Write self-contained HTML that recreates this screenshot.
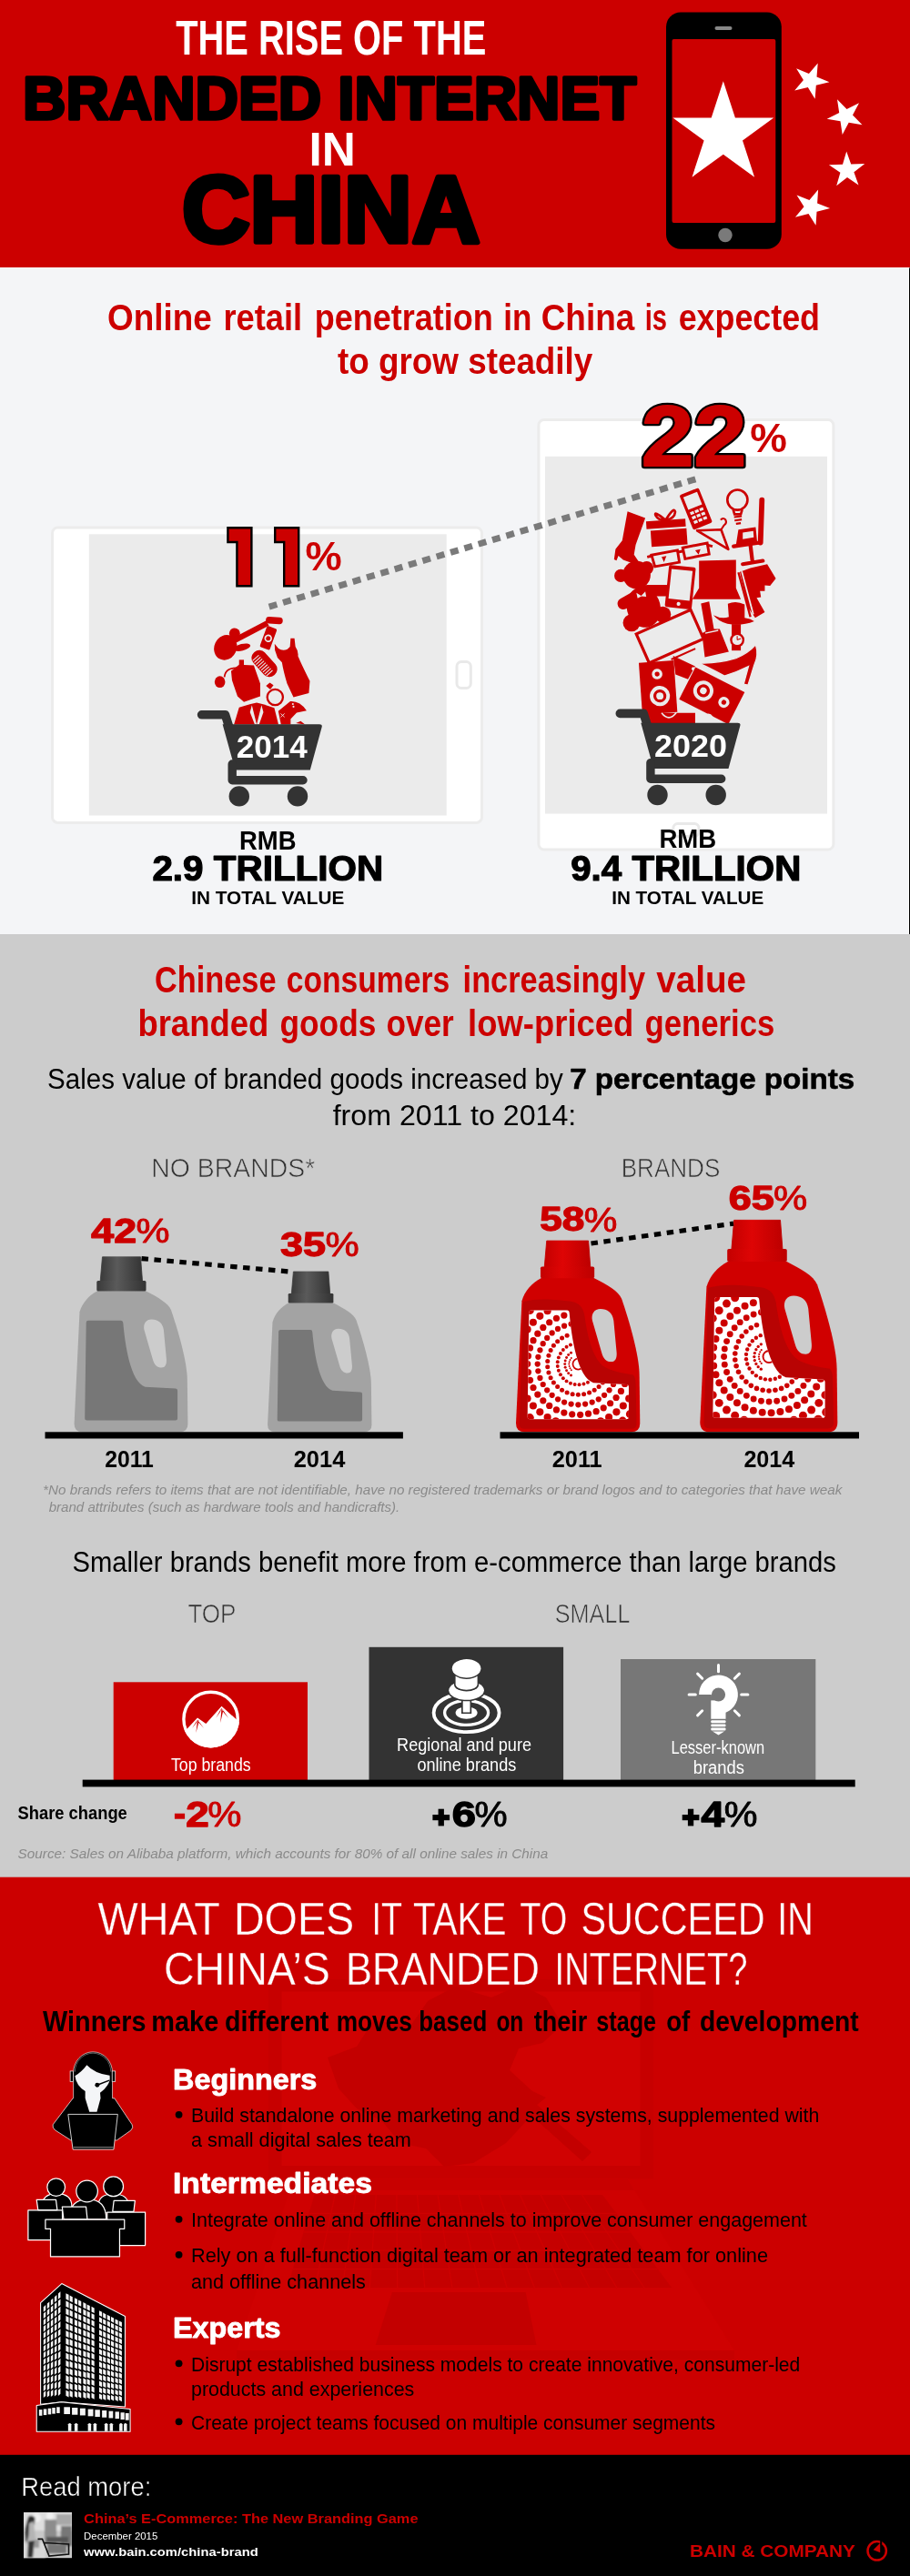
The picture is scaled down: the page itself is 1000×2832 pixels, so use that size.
<!DOCTYPE html>
<html><head><meta charset="utf-8"><title>The Rise of the Branded Internet in China</title>
<style>
html,body{margin:0;padding:0;background:#cc0000;}
body{width:1000px;height:2832px;overflow:hidden;font-family:"Liberation Sans",sans-serif;}
svg{display:block;will-change:transform;}
svg text{font-family:"Liberation Sans",sans-serif;}
</style></head><body>
<svg width="1000" height="2832" viewBox="0 0 1000 2832">
<rect x="0.0" y="0.0" width="1000.0" height="294.0" fill="#cc0000" />
<text x="193.2" y="60.4" font-size="52.8" font-weight="bold" fill="#fff" textLength="341.1" lengthAdjust="spacingAndGlyphs">THE RISE OF THE</text>
<text x="25.1" y="130.8" font-size="67.5" font-weight="bold" textLength="674.2" lengthAdjust="spacingAndGlyphs" stroke="#000" stroke-width="3.6" stroke-linejoin="round">BRANDED INTERNET</text>
<text x="339.5" y="182.2" font-size="51.4" font-weight="bold" fill="#fff" textLength="51.3" lengthAdjust="spacingAndGlyphs">IN</text>
<text x="199.9" y="265.8" font-size="103" font-weight="bold" textLength="327.6" lengthAdjust="spacingAndGlyphs" stroke="#000" stroke-width="5.5" stroke-linejoin="round">CHINA</text>
<rect x="732" y="13.5" width="126.8" height="260.3" rx="16" fill="#000"/>
<rect x="738.5" y="43" width="113.8" height="202" rx="2" fill="#cc0000"/>
<rect x="785.5" y="29" width="19" height="4" rx="2" fill="#888"/>
<circle cx="797" cy="258.5" r="7.7" fill="#7a7a7a"/>
<polygon points="794.8,89.2 807.9,129.5 850.2,129.5 816.0,154.4 829.1,194.7 794.8,169.8 760.5,194.7 773.6,154.4 739.4,129.5 781.7,129.5" fill="#fff"/>
<polygon points="873.2,99.4 882.9,88.0 875.1,75.2 888.9,80.9 898.7,69.5 897.5,84.5 911.4,90.2 896.8,93.7 895.6,108.7 887.8,95.9" fill="#fff"/>
<polygon points="908.7,130.7 922.2,124.0 920.0,109.2 930.5,119.9 944.0,113.2 937.0,126.5 947.5,137.3 932.7,134.8 925.7,148.1 923.5,133.2" fill="#fff"/>
<polygon points="910.9,181.3 926.0,180.8 930.2,166.4 935.2,180.6 950.3,180.1 938.4,189.3 943.5,203.5 931.0,195.0 919.2,204.2 923.4,189.8" fill="#fff"/>
<polygon points="875.5,214.5 889.4,220.0 899.1,208.5 898.1,223.5 912.1,229.0 897.5,232.8 896.5,247.8 888.5,235.0 873.9,238.8 883.5,227.2" fill="#fff"/>
<rect x="0.0" y="294.0" width="1000.0" height="733.0" fill="#f4f5f7" />
<rect x="0.0" y="294.0" width="999.0" height="1.2" fill="#fbfdfd" />
<rect x="998.0" y="294.0" width="1.0" height="733.0" fill="#ffffff" />
<rect x="999.0" y="294.5" width="1.0" height="732.5" fill="#000" />
<text x="118.1" y="363.2" font-size="41.5" font-weight="bold" fill="#cc0000" textLength="114.7" lengthAdjust="spacingAndGlyphs">Online</text>
<text x="245.5" y="363.2" font-size="41.5" font-weight="bold" fill="#cc0000" textLength="86.6" lengthAdjust="spacingAndGlyphs">retail</text>
<text x="345.7" y="363.2" font-size="41.5" font-weight="bold" fill="#cc0000" textLength="196.2" lengthAdjust="spacingAndGlyphs">penetration</text>
<text x="553.2" y="363.2" font-size="41.5" font-weight="bold" fill="#cc0000" textLength="31.1" lengthAdjust="spacingAndGlyphs">in</text>
<text x="594.7" y="363.2" font-size="41.5" font-weight="bold" fill="#cc0000" textLength="102.6" lengthAdjust="spacingAndGlyphs">China</text>
<text x="708.7" y="363.2" font-size="41.5" font-weight="bold" fill="#cc0000" textLength="24.3" lengthAdjust="spacingAndGlyphs">is</text>
<text x="745.7" y="363.2" font-size="41.5" font-weight="bold" fill="#cc0000" textLength="155.3" lengthAdjust="spacingAndGlyphs">expected</text>
<text x="371.0" y="410.8" font-size="41.5" font-weight="bold" fill="#cc0000" textLength="280.3" lengthAdjust="spacingAndGlyphs">to grow steadily</text>
<rect x="57.5" y="580.0" width="472" height="324.4" rx="6" fill="#fff" stroke="#ececec" stroke-width="3"/>
<rect x="97.8" y="587.3" width="392.9" height="309.2" fill="#ebebeb" />
<rect x="502" y="727.5" width="15.3" height="29" rx="5" fill="#fff" stroke="#e9e9e9" stroke-width="3"/>
<rect x="591.9" y="461.5" width="324" height="472.5" rx="6" fill="#fff" stroke="#ececec" stroke-width="3"/>
<rect x="599.0" y="501.8" width="310.0" height="392.8" fill="#ebebeb" />
<rect x="739.8" y="905.5" width="28.3" height="14" rx="5" fill="#fff" stroke="#e9e9e9" stroke-width="3"/>
<path d="M295.7 667.1 L764.3 526.8" stroke="#7a7a7a" stroke-width="7" stroke-dasharray="9 7.006" fill="none"/>
<g transform="translate(210,660) scale(0.17582)" fill="#cc0000" stroke="none">
<ellipse cx="215" cy="295" rx="70" ry="80" transform="rotate(25 215 295)"/>
<circle cx="272" cy="208" r="34"/>
<ellipse cx="318" cy="294" rx="54" ry="21" transform="rotate(-14 318 294)"/>
<path d="M250 262 L478 142" stroke="#cc0000" stroke-width="36" fill="none"/>
<path d="M488 124 L552 128" stroke="#cc0000" stroke-width="42" stroke-linecap="round" fill="none"/>
<g transform="rotate(20 483 235)"><rect x="450" y="165" width="66" height="140" rx="10"/><circle cx="483" cy="238" r="24" fill="#ebebeb"/><circle cx="483" cy="238" r="14"/></g>
<path d="M522 272 L545 300 Q572 320 602 305 L618 290 L622 238 L646 238 L652 290 Q672 318 668 348 Q690 400 725 470 L742 505 L736 580 L640 606 L600 520 Q576 440 568 388 L540 358 L524 312 Z"/>
<g transform="rotate(-42 458 395)"><rect x="410" y="300" width="96" height="190" rx="45"/>
<rect x="415" y="330" width="52" height="6" fill="#ebebeb"/>
<rect x="415" y="346" width="52" height="6" fill="#ebebeb"/>
<rect x="415" y="362" width="52" height="6" fill="#ebebeb"/>
<rect x="415" y="378" width="52" height="6" fill="#ebebeb"/>
<rect x="415" y="394" width="52" height="6" fill="#ebebeb"/>
<rect x="415" y="410" width="52" height="6" fill="#ebebeb"/>
<rect x="415" y="426" width="52" height="6" fill="#ebebeb"/>
<rect x="415" y="442" width="52" height="6" fill="#ebebeb"/>
<rect x="415" y="458" width="52" height="6" fill="#ebebeb"/>
</g>
<path d="M250 442 L300 402 L392 406 L432 520 L432 600 L330 636 L290 600 L256 500 Z"/>
<rect x="300" y="372" width="30" height="34"/>
<path d="M300 425 Q215 415 208 480" stroke="#cc0000" stroke-width="10" fill="none"/>
<ellipse cx="180" cy="510" rx="33" ry="36"/>
<circle cx="525" cy="606" r="49" fill="none" stroke="#cc0000" stroke-width="13"/>
<path d="M468 535 L492 515 L515 530 L495 558 Z"/>
<path d="M300 670 L372 648 L410 640 L450 650 L520 672 L546 776 L268 776 Z"/>
<path d="M380 655 L410 776 L440 655 L452 700 L425 776 L398 776 L368 700 Z" fill="#ebebeb"/>
<path d="M396 660 L410 760 L426 660 Z"/>
<path d="M545 692 L620 632 Q680 628 722 690 L660 702 L622 742 L622 776 L562 776 Z"/>
<path d="M655 768 L685 755 L712 776 Z"/>
<circle cx="636" cy="648" r="6" fill="#ebebeb"/><circle cx="640" cy="665" r="6" fill="#ebebeb"/>
<path d="M560 708 L584 730 M584 708 L560 730" stroke="#ebebeb" stroke-width="5" fill="none"/>
</g>
<g transform="translate(640,520) scale(0.26374)" fill="#cc0000" stroke="none">
<path d="M188 160 L262 188 L222 300 L215 340 L236 372 L225 382 L170 362 L150 345 L142 365 L132 360 L138 318 L166 282 Z"/>
<g transform="rotate(-4 350 240)"><rect x="268" y="196" width="164" height="32"/><rect x="284" y="236" width="150" height="68"/>
<path d="M350 196 Q300 150 310 175 Q320 196 350 196 Q390 140 392 165 Q388 192 350 196" stroke="#cc0000" stroke-width="10" fill="none"/></g>
<g transform="rotate(-22 472 150)"><rect x="430" y="72" width="86" height="156" rx="8"/><rect x="442" y="86" width="62" height="56" fill="#ebebeb"/>
<rect x="444" y="154" width="16" height="12" fill="#ebebeb"/>
<rect x="465" y="154" width="16" height="12" fill="#ebebeb"/>
<rect x="486" y="154" width="16" height="12" fill="#ebebeb"/>
<rect x="444" y="174" width="16" height="12" fill="#ebebeb"/>
<rect x="465" y="174" width="16" height="12" fill="#ebebeb"/>
<rect x="486" y="174" width="16" height="12" fill="#ebebeb"/>
<rect x="444" y="194" width="16" height="12" fill="#ebebeb"/>
<rect x="465" y="194" width="16" height="12" fill="#ebebeb"/>
<rect x="486" y="194" width="16" height="12" fill="#ebebeb"/>
</g>
<circle cx="646" cy="112" r="42" fill="none" stroke="#cc0000" stroke-width="10"/>
<path d="M628 152 L634 172 L660 172 L666 152" fill="none" stroke="#cc0000" stroke-width="10"/>
<path d="M632 184 L664 180 M634 198 L664 194 M640 212 L660 209" stroke="#cc0000" stroke-width="8" fill="none"/>
<path d="M478 240 L608 318 L578 236 Z" fill="none" stroke="#cc0000" stroke-width="10" stroke-linejoin="round"/>
<path d="M578 236 L590 218 Q604 208 596 194 Q586 184 576 196" fill="none" stroke="#cc0000" stroke-width="8"/>
<path d="M748 112 L742 290" stroke="#cc0000" stroke-width="22" stroke-linecap="round" fill="none"/>
<path d="M650 236 L722 226 L728 286 L640 300 Z"/><path d="M668 248 L712 242 L714 268 L668 276 Z" fill="#ebebeb"/>
<path d="M630 306 L740 290" stroke="#cc0000" stroke-width="16" stroke-linecap="round" fill="none"/>
<path d="M700 300 L708 366 M668 380 L752 366" stroke="#cc0000" stroke-width="16" stroke-linecap="round" fill="none"/>
<g fill="none" stroke="#cc0000" stroke-width="11"><path d="M288 342 L396 322 L404 372 L302 390 Z"/><path d="M418 312 L520 292 L528 338 L428 358 Z"/><path d="M396 330 L418 326 M270 350 L288 346 M520 300 L542 306"/></g>
<path d="M330 350 L350 346 L340 372 Z M470 322 L492 318 L484 340 Z"/>
<circle cx="226" cy="425" r="58"/><circle cx="160" cy="428" r="27"/><circle cx="268" cy="396" r="28"/>
<ellipse cx="255" cy="560" rx="70" ry="85" transform="rotate(-15 255 560)"/>
<path d="M170 545 L250 500 M270 490 L350 490" stroke="#cc0000" stroke-width="48" stroke-linecap="round" fill="none"/>
<circle cx="205" cy="625" r="36"/><circle cx="335" cy="590" r="34"/>
<path d="M225 500 L245 512 L262 494 L266 516 L246 514 L230 522 Z" fill="#ebebeb"/>
<g transform="rotate(6 408 475)"><rect x="352" y="388" width="112" height="176" rx="8"/><rect x="364" y="404" width="88" height="124" fill="#ebebeb"/><circle cx="408" cy="546" r="8" fill="#ebebeb"/></g>
<path d="M486 366 L640 362 L640 480 L660 526 L458 526 L486 480 Z"/>
<path d="M656 412 L700 396 L770 380 L806 440 L782 470 L760 468 L760 492 L740 492 L744 518 L726 520 L760 580 L720 604 L690 560 Z"/>
<path d="M664 410 L712 590" stroke="#ebebeb" stroke-width="7" fill="none"/><path d="M650 414 L700 600" stroke="#cc0000" stroke-width="9" fill="none"/>
<g transform="rotate(-24 362 680)"><rect x="240" y="616" width="248" height="132" fill="#ebebeb" stroke="#cc0000" stroke-width="12"/><rect x="330" y="768" width="110" height="8"/></g>
<path d="M494 544 L528 536 L548 650 L572 650 L610 745 L510 768 L498 668 L514 660 Z"/>
<path d="M512 668 L566 656" stroke="#ebebeb" stroke-width="5" fill="none"/>
<path d="M546 592 Q580 610 610 600 L606 545 Q640 530 676 548 L676 604 Q700 606 716 618 Q660 640 604 628 Q566 618 546 592 Z"/>
<rect x="622" y="630" width="38" height="110"/><circle cx="645" cy="696" r="30"/><circle cx="645" cy="696" r="21" fill="#ebebeb"/><path d="M645 696 L645 680 M645 696 L660 690" stroke="#cc0000" stroke-width="4"/>
<g transform="rotate(-4 315 890)"><rect x="242" y="786" width="146" height="216"/><circle cx="315" cy="838" r="22" fill="#ebebeb"/><circle cx="315" cy="838" r="10"/><circle cx="320" cy="930" r="42" fill="#ebebeb"/><circle cx="320" cy="930" r="27"/><circle cx="320" cy="930" r="15" fill="#ebebeb"/></g>
<path d="M378 762 L470 806 L440 860 L388 840 Z"/>
<circle cx="462" cy="816" r="7" fill="#ebebeb"/>
<g transform="rotate(27 540 925)"><rect x="426" y="853" width="230" height="150"/><circle cx="500" cy="926" r="42" fill="#ebebeb"/><circle cx="500" cy="926" r="27"/><circle cx="500" cy="926" r="14" fill="#ebebeb"/><circle cx="598" cy="930" r="23" fill="#ebebeb"/><circle cx="598" cy="930" r="10"/></g>
<path d="M484 792 Q560 796 640 772 Q690 752 722 716 Q736 760 716 800 L690 884 L672 880 L692 806 Q640 832 592 846 Q530 812 484 792 Z" stroke="#ebebeb" stroke-width="5"/>
<path d="M262 1000 L470 1000 L470 1046 L250 1046 Z"/>
<path d="M330 1000 Q360 1040 392 998" stroke="#ebebeb" stroke-width="6" fill="none"/>
<ellipse cx="525" cy="1040" rx="22" ry="34" fill="none" stroke="#ebebeb" stroke-width="6"/>
</g>
<g transform="translate(0,0)">
<path d="M221.6 785.8 L247.5 785.8 L252 800" fill="none" stroke="#333333" stroke-width="9.6" stroke-linecap="round" stroke-linejoin="round"/>
<path d="M244.6 796.2 L351 796.2 Q354.6 796.2 353.6 799.5 L340.8 846.5 L258.5 846.5 Z" fill="#333333"/>
<path d="M255.2 840 L255.2 857.7 L333 857.7" fill="none" stroke="#333333" stroke-width="9.4" stroke-linecap="round" stroke-linejoin="round"/>
<circle cx="262.8" cy="875.4" r="11.2" fill="#333333"/><circle cx="327" cy="875.4" r="11.2" fill="#333333"/>
</g>
<text x="259.7" y="833.2" font-size="35" font-weight="bold" fill="#fff" textLength="78.0" lengthAdjust="spacingAndGlyphs">2014</text>
<g transform="translate(459.7,-1.4)">
<path d="M221.6 785.8 L247.5 785.8 L252 800" fill="none" stroke="#333333" stroke-width="9.6" stroke-linecap="round" stroke-linejoin="round"/>
<path d="M244.6 796.2 L351 796.2 Q354.6 796.2 353.6 799.5 L340.8 846.5 L258.5 846.5 Z" fill="#333333"/>
<path d="M255.2 840 L255.2 857.7 L333 857.7" fill="none" stroke="#333333" stroke-width="9.4" stroke-linecap="round" stroke-linejoin="round"/>
<circle cx="262.8" cy="875.4" r="11.2" fill="#333333"/><circle cx="327" cy="875.4" r="11.2" fill="#333333"/>
</g>
<text x="719.0" y="832.2" font-size="35" font-weight="bold" fill="#fff" textLength="79.9" lengthAdjust="spacingAndGlyphs">2020</text>
<path d="M250.4 580.2 L276.4 580.2 L276.4 644.3 L260.4 644.3 L260.4 596 L250.4 596 Z" fill="#cc0000" stroke="#000" stroke-width="2.4"/>
<path d="M302.2 580.2 L328.2 580.2 L328.2 644.3 L312.2 644.3 L312.2 596 L302.2 596 Z" fill="#cc0000" stroke="#000" stroke-width="2.4"/>
<text x="335.4" y="627.0" font-size="45" font-weight="bold" fill="#cc0000" textLength="40.2" lengthAdjust="spacingAndGlyphs">%</text>
<text x="704.7" y="512.2" font-size="95" font-weight="bold" textLength="115.6" lengthAdjust="spacingAndGlyphs" stroke="#000" stroke-width="6.4" stroke-linejoin="round">22</text>
<text x="704.7" y="512.2" font-size="95" font-weight="bold" fill="#cc0000" textLength="115.6" lengthAdjust="spacingAndGlyphs" stroke="#cc0000" stroke-width="2.0" stroke-linejoin="round">22</text>
<text x="824.2" y="497.0" font-size="45" font-weight="bold" fill="#cc0000" textLength="40.6" lengthAdjust="spacingAndGlyphs">%</text>
<text x="263.0" y="933.7" font-size="30" font-weight="bold" textLength="62.5" lengthAdjust="spacingAndGlyphs">RMB</text>
<text x="167.4" y="968.4" font-size="38" font-weight="bold" textLength="253.7" lengthAdjust="spacingAndGlyphs" stroke="#000" stroke-width="1.2" stroke-linejoin="round">2.9 TRILLION</text>
<text x="210.2" y="994.0" font-size="21" font-weight="bold" textLength="168.1" lengthAdjust="spacingAndGlyphs">IN TOTAL VALUE</text>
<text x="724.4" y="932.4" font-size="30" font-weight="bold" textLength="62.8" lengthAdjust="spacingAndGlyphs">RMB</text>
<text x="627.2" y="968.0" font-size="38" font-weight="bold" textLength="253.1" lengthAdjust="spacingAndGlyphs" stroke="#000" stroke-width="1.2" stroke-linejoin="round">9.4 TRILLION</text>
<text x="672.2" y="993.8" font-size="21" font-weight="bold" textLength="167.1" lengthAdjust="spacingAndGlyphs">IN TOTAL VALUE</text>
<rect x="0.0" y="1027.0" width="1000.0" height="1037.0" fill="#cccccc" />
<defs>
<linearGradient id="capG" x1="0" x2="1" y1="0" y2="0"><stop offset="0" stop-color="#3a3a3a"/><stop offset="0.4" stop-color="#5a5a5a"/><stop offset="1" stop-color="#333"/></linearGradient>
<linearGradient id="capR" x1="0" x2="1" y1="0" y2="0"><stop offset="0" stop-color="#c40000"/><stop offset="0.4" stop-color="#de0505"/><stop offset="1" stop-color="#bd0000"/></linearGradient>
<clipPath id="labClip"><path d="M-46.5 -122.6 L-10.5 -122.6 Q-8.4 -122.6 -8.2 -120 C-6 -95 0 -55 16 -49.6 L49.5 -47.8 Q51.6 -47.6 51.6 -45.5 L51.6 -15 Q51.6 -12.8 49.4 -12.8 L-48 -12.8 Q-50.4 -12.8 -50.3 -15 L-48.8 -120.4 Q-48.7 -122.6 -46.5 -122.6 Z"/></clipPath>
<g id="dots" fill="#cc0000">
<circle cx="0.7" cy="-68.4" r="5.4" fill="none" stroke="#cc0000" stroke-width="1.6"/>
<circle cx="-6.2" cy="-62.3" r="0.9"/>
<circle cx="-7.4" cy="-64.1" r="0.9"/>
<circle cx="-8.2" cy="-66.2" r="0.9"/>
<circle cx="-8.5" cy="-68.4" r="0.9"/>
<circle cx="-8.2" cy="-70.6" r="0.9"/>
<circle cx="-7.4" cy="-72.7" r="0.9"/>
<circle cx="-6.2" cy="-74.5" r="0.9"/>
<circle cx="-6.5" cy="-57.1" r="1.35"/>
<circle cx="-9.1" cy="-59.2" r="1.35"/>
<circle cx="-11.0" cy="-61.9" r="1.35"/>
<circle cx="-12.3" cy="-65.1" r="1.35"/>
<circle cx="-12.7" cy="-68.4" r="1.35"/>
<circle cx="-12.3" cy="-71.7" r="1.35"/>
<circle cx="-11.0" cy="-74.9" r="1.35"/>
<circle cx="-9.1" cy="-77.6" r="1.35"/>
<circle cx="-6.5" cy="-79.7" r="1.35"/>
<circle cx="10.4" cy="-50.0" r="1.8"/>
<circle cx="6.3" cy="-48.4" r="1.8"/>
<circle cx="1.8" cy="-47.6" r="1.8"/>
<circle cx="-2.7" cy="-47.9" r="1.8"/>
<circle cx="-7.0" cy="-49.1" r="1.8"/>
<circle cx="-11.0" cy="-51.2" r="1.8"/>
<circle cx="-14.4" cy="-54.1" r="1.8"/>
<circle cx="-17.1" cy="-57.7" r="1.8"/>
<circle cx="-19.0" cy="-61.8" r="1.8"/>
<circle cx="-20.0" cy="-66.2" r="1.8"/>
<circle cx="-20.0" cy="-70.6" r="1.8"/>
<circle cx="-19.0" cy="-75.0" r="1.8"/>
<circle cx="-17.1" cy="-79.1" r="1.8"/>
<circle cx="-14.4" cy="-82.7" r="1.8"/>
<circle cx="-11.0" cy="-85.6" r="1.8"/>
<circle cx="-7.0" cy="-87.7" r="1.8"/>
<circle cx="25.4" cy="-49.8" r="2.3"/>
<circle cx="21.5" cy="-45.6" r="2.3"/>
<circle cx="17.0" cy="-42.1" r="2.3"/>
<circle cx="11.9" cy="-39.6" r="2.3"/>
<circle cx="6.4" cy="-38.0" r="2.3"/>
<circle cx="0.7" cy="-37.5" r="2.3"/>
<circle cx="-5.0" cy="-38.0" r="2.3"/>
<circle cx="-10.5" cy="-39.6" r="2.3"/>
<circle cx="-15.6" cy="-42.1" r="2.3"/>
<circle cx="-20.1" cy="-45.6" r="2.3"/>
<circle cx="-24.0" cy="-49.8" r="2.3"/>
<circle cx="-27.0" cy="-54.6" r="2.3"/>
<circle cx="-29.0" cy="-59.9" r="2.3"/>
<circle cx="-30.1" cy="-65.5" r="2.3"/>
<circle cx="-30.1" cy="-71.3" r="2.3"/>
<circle cx="-29.0" cy="-76.9" r="2.3"/>
<circle cx="-27.0" cy="-82.2" r="2.3"/>
<circle cx="-24.0" cy="-87.0" r="2.3"/>
<circle cx="-20.1" cy="-91.2" r="2.3"/>
<circle cx="-15.6" cy="-94.7" r="2.3"/>
<circle cx="-10.5" cy="-97.2" r="2.3"/>
<circle cx="36.1" cy="-48.0" r="2.85"/>
<circle cx="32.0" cy="-42.1" r="2.85"/>
<circle cx="27.0" cy="-37.1" r="2.85"/>
<circle cx="21.2" cy="-33.0" r="2.85"/>
<circle cx="14.7" cy="-30.0" r="2.85"/>
<circle cx="7.8" cy="-28.1" r="2.85"/>
<circle cx="0.7" cy="-27.5" r="2.85"/>
<circle cx="-6.4" cy="-28.1" r="2.85"/>
<circle cx="-13.3" cy="-30.0" r="2.85"/>
<circle cx="-19.7" cy="-33.0" r="2.85"/>
<circle cx="-25.6" cy="-37.1" r="2.85"/>
<circle cx="-30.6" cy="-42.1" r="2.85"/>
<circle cx="-34.7" cy="-47.9" r="2.85"/>
<circle cx="-37.7" cy="-54.4" r="2.85"/>
<circle cx="-39.6" cy="-61.3" r="2.85"/>
<circle cx="-40.2" cy="-68.4" r="2.85"/>
<circle cx="-39.6" cy="-75.5" r="2.85"/>
<circle cx="-37.7" cy="-82.4" r="2.85"/>
<circle cx="-34.7" cy="-88.9" r="2.85"/>
<circle cx="-30.6" cy="-94.7" r="2.85"/>
<circle cx="-25.6" cy="-99.7" r="2.85"/>
<circle cx="-19.8" cy="-103.8" r="2.85"/>
<circle cx="-13.3" cy="-106.8" r="2.85"/>
<circle cx="-6.4" cy="-108.7" r="2.85"/>
<circle cx="47.6" cy="-48.4" r="3.3"/>
<circle cx="43.8" cy="-41.1" r="3.3"/>
<circle cx="38.9" cy="-34.6" r="3.3"/>
<circle cx="33.0" cy="-28.9" r="3.3"/>
<circle cx="26.2" cy="-24.2" r="3.3"/>
<circle cx="18.8" cy="-20.7" r="3.3"/>
<circle cx="10.9" cy="-18.4" r="3.3"/>
<circle cx="2.8" cy="-17.4" r="3.3"/>
<circle cx="-5.4" cy="-17.8" r="3.3"/>
<circle cx="-13.5" cy="-19.4" r="3.3"/>
<circle cx="-21.2" cy="-22.3" r="3.3"/>
<circle cx="-28.3" cy="-26.4" r="3.3"/>
<circle cx="-34.6" cy="-31.6" r="3.3"/>
<circle cx="-40.1" cy="-37.8" r="3.3"/>
<circle cx="-44.5" cy="-44.7" r="3.3"/>
<circle cx="-47.7" cy="-52.2" r="3.3"/>
<circle cx="-49.6" cy="-60.2" r="3.3"/>
<circle cx="-50.3" cy="-68.4" r="3.3"/>
<circle cx="-49.6" cy="-76.6" r="3.3"/>
<circle cx="-47.7" cy="-84.6" r="3.3"/>
<circle cx="-44.5" cy="-92.1" r="3.3"/>
<circle cx="-40.1" cy="-99.0" r="3.3"/>
<circle cx="-34.6" cy="-105.2" r="3.3"/>
<circle cx="-28.3" cy="-110.4" r="3.3"/>
<circle cx="-21.2" cy="-114.5" r="3.3"/>
<circle cx="-13.5" cy="-117.4" r="3.3"/>
<circle cx="51.8" cy="-33.6" r="3.7"/>
<circle cx="46.0" cy="-26.4" r="3.7"/>
<circle cx="39.2" cy="-20.1" r="3.7"/>
<circle cx="31.6" cy="-14.9" r="3.7"/>
<circle cx="23.3" cy="-10.9" r="3.7"/>
<circle cx="-21.9" cy="-10.9" r="3.7"/>
<circle cx="-30.2" cy="-14.9" r="3.7"/>
<circle cx="-37.8" cy="-20.1" r="3.7"/>
<circle cx="-44.6" cy="-26.4" r="3.7"/>
<circle cx="-50.4" cy="-33.6" r="3.7"/>
<circle cx="-50.4" cy="-103.2" r="3.7"/>
<circle cx="-44.6" cy="-110.4" r="3.7"/>
<circle cx="-37.8" cy="-116.7" r="3.7"/>
<circle cx="-30.2" cy="-121.9" r="3.7"/>
<circle cx="52.9" cy="-18.0" r="4.1"/>
<circle cx="45.4" cy="-11.2" r="4.1"/>
<circle cx="-47.9" cy="-14.4" r="4.1"/>
<circle cx="-47.9" cy="-122.4" r="4.1"/>
</g>
</defs>
<text x="170.1" y="1091.4" font-size="41.5" font-weight="bold" fill="#cc0000" textLength="133.4" lengthAdjust="spacingAndGlyphs">Chinese</text>
<text x="314.7" y="1091.4" font-size="41.5" font-weight="bold" fill="#cc0000" textLength="179.5" lengthAdjust="spacingAndGlyphs">consumers</text>
<text x="508.6" y="1091.4" font-size="41.5" font-weight="bold" fill="#cc0000" textLength="200.4" lengthAdjust="spacingAndGlyphs">increasingly</text>
<text x="721.2" y="1091.4" font-size="41.5" font-weight="bold" fill="#cc0000" textLength="98.8" lengthAdjust="spacingAndGlyphs">value</text>
<text x="151.4" y="1139.2" font-size="41.5" font-weight="bold" fill="#cc0000" textLength="143.9" lengthAdjust="spacingAndGlyphs">branded</text>
<text x="307.5" y="1139.2" font-size="41.5" font-weight="bold" fill="#cc0000" textLength="105.8" lengthAdjust="spacingAndGlyphs">goods</text>
<text x="424.5" y="1139.2" font-size="41.5" font-weight="bold" fill="#cc0000" textLength="74.3" lengthAdjust="spacingAndGlyphs">over</text>
<text x="514.1" y="1139.2" font-size="41.5" font-weight="bold" fill="#cc0000" textLength="182.2" lengthAdjust="spacingAndGlyphs">low-priced</text>
<text x="708.6" y="1139.2" font-size="41.5" font-weight="bold" fill="#cc0000" textLength="142.7" lengthAdjust="spacingAndGlyphs">generics</text>
<text x="52.0" y="1197.0" font-size="31" textLength="566.8" lengthAdjust="spacingAndGlyphs">Sales value of branded goods increased by</text>
<text x="626.2" y="1197.0" font-size="31" font-weight="bold" textLength="313.1" lengthAdjust="spacingAndGlyphs" stroke="#000" stroke-width="0.6" stroke-linejoin="round">7 percentage points</text>
<text x="365.7" y="1237.0" font-size="31" textLength="267.6" lengthAdjust="spacingAndGlyphs">from 2011 to 2014:</text>
<text x="166.3" y="1294.0" font-size="29" fill="#333" textLength="180.0" lengthAdjust="spacingAndGlyphs" stroke="#cccccc" stroke-width="0.7" stroke-linejoin="round">NO BRANDS*</text>
<text x="682.7" y="1294.0" font-size="29" fill="#333" textLength="108.6" lengthAdjust="spacingAndGlyphs" stroke="#cccccc" stroke-width="0.7" stroke-linejoin="round">BRANDS</text>
<g transform="translate(143.5,1574.3) scale(1.0)">
<path d="M-36.4 -155 C-46 -150 -53 -142 -56 -132 L-61.9 -9 Q-62 0 -53 0 L54 0 Q63 0 62.9 -9 L62.3 -58 C62 -78 52 -112 44.5 -134 C41 -142 30 -148 16.5 -155 Z" fill="#a3a3a3"/>
<path d="M-46.5 -122.6 L-10.5 -122.6 Q-8.4 -122.6 -8.2 -120 C-6 -95 0 -55 16 -49.6 L49.5 -47.8 Q51.6 -47.6 51.6 -45.5 L51.6 -15 Q51.6 -12.8 49.4 -12.8 L-48 -12.8 Q-50.4 -12.8 -50.3 -15 L-48.8 -120.4 Q-48.7 -122.6 -46.5 -122.6 Z" fill="#777777"/>
<path d="M23.1 -123.9 C17 -123.9 13.5 -119 15 -112 L24.3 -80 C26 -73 30 -70.6 34 -70.7 C38 -70.8 39.8 -74 39.4 -80 L36.4 -112 C35.5 -120 30 -123.9 23.1 -123.9 Z" fill="#cccccc"/>
<path d="M-31 -192.5 L11 -192.5 L13 -166 L-33.3 -166 Z" fill="url(#capG)" stroke="url(#capG)" stroke-width="0.8" stroke-linejoin="round"/>
<rect x="-37.2" y="-166.4" width="54.2" height="11.6" rx="1.5" fill="url(#capG)"/>
</g>
<g transform="translate(350.8,1574.3) scale(0.916)">
<path d="M-36.4 -155 C-46 -150 -53 -142 -56 -132 L-61.9 -9 Q-62 0 -53 0 L54 0 Q63 0 62.9 -9 L62.3 -58 C62 -78 52 -112 44.5 -134 C41 -142 30 -148 16.5 -155 Z" fill="#a3a3a3"/>
<path d="M-46.5 -122.6 L-10.5 -122.6 Q-8.4 -122.6 -8.2 -120 C-6 -95 0 -55 16 -49.6 L49.5 -47.8 Q51.6 -47.6 51.6 -45.5 L51.6 -15 Q51.6 -12.8 49.4 -12.8 L-48 -12.8 Q-50.4 -12.8 -50.3 -15 L-48.8 -120.4 Q-48.7 -122.6 -46.5 -122.6 Z" fill="#777777"/>
<path d="M23.1 -123.9 C17 -123.9 13.5 -119 15 -112 L24.3 -80 C26 -73 30 -70.6 34 -70.7 C38 -70.8 39.8 -74 39.4 -80 L36.4 -112 C35.5 -120 30 -123.9 23.1 -123.9 Z" fill="#cccccc"/>
<path d="M-31 -192.5 L11 -192.5 L13 -166 L-33.3 -166 Z" fill="url(#capG)" stroke="url(#capG)" stroke-width="0.8" stroke-linejoin="round"/>
<rect x="-37.2" y="-166.4" width="54.2" height="11.6" rx="1.5" fill="url(#capG)"/>
</g>
<g transform="translate(634.6,1574.3) scale(1.092)">
<path d="M-36.4 -155 C-46 -150 -53 -142 -56 -132 L-61.9 -9 Q-62 0 -53 0 L54 0 Q63 0 62.9 -9 L62.3 -58 C62 -78 52 -112 44.5 -134 C41 -142 30 -148 16.5 -155 Z" fill="#d00000"/>
<path d="M-54.5 -131 C-40 -135.5 -20 -133 -7.8 -131.6 C2 -130 5 -126 7 -118 C10 -95 16 -72 28 -65 C38 -60 50 -58.5 56 -57.5 C58.5 -55 58.6 -50 58.6 -47.5 L59.4 -8 Q59.4 -3.2 54 -3.2 L-53 -3.2 Q-58.6 -3.2 -58.4 -8 Z" fill="#b80303"/>
<path d="M-46.5 -122.6 L-10.5 -122.6 Q-8.4 -122.6 -8.2 -120 C-6 -95 0 -55 16 -49.6 L49.5 -47.8 Q51.6 -47.6 51.6 -45.5 L51.6 -15 Q51.6 -12.8 49.4 -12.8 L-48 -12.8 Q-50.4 -12.8 -50.3 -15 L-48.8 -120.4 Q-48.7 -122.6 -46.5 -122.6 Z" fill="#fff"/>
<g clip-path="url(#labClip)"><use href="#dots"/></g>
<path d="M23.1 -123.9 C17 -123.9 13.5 -119 15 -112 L24.3 -80 C26 -73 30 -70.6 34 -70.7 C38 -70.8 39.8 -74 39.4 -80 L36.4 -112 C35.5 -120 30 -123.9 23.1 -123.9 Z" fill="#cccccc"/>
<path d="M-31 -192.5 L11 -192.5 L13 -166 L-33.3 -166 Z" fill="url(#capR)" stroke="url(#capR)" stroke-width="0.8" stroke-linejoin="round"/>
<rect x="-37.2" y="-166.4" width="54.2" height="11.6" rx="1.5" fill="url(#capR)"/>
</g>
<g transform="translate(844.2,1574.3) scale(1.21)">
<path d="M-36.4 -155 C-46 -150 -53 -142 -56 -132 L-61.9 -9 Q-62 0 -53 0 L54 0 Q63 0 62.9 -9 L62.3 -58 C62 -78 52 -112 44.5 -134 C41 -142 30 -148 16.5 -155 Z" fill="#d00000"/>
<path d="M-54.5 -131 C-40 -135.5 -20 -133 -7.8 -131.6 C2 -130 5 -126 7 -118 C10 -95 16 -72 28 -65 C38 -60 50 -58.5 56 -57.5 C58.5 -55 58.6 -50 58.6 -47.5 L59.4 -8 Q59.4 -3.2 54 -3.2 L-53 -3.2 Q-58.6 -3.2 -58.4 -8 Z" fill="#b80303"/>
<path d="M-46.5 -122.6 L-10.5 -122.6 Q-8.4 -122.6 -8.2 -120 C-6 -95 0 -55 16 -49.6 L49.5 -47.8 Q51.6 -47.6 51.6 -45.5 L51.6 -15 Q51.6 -12.8 49.4 -12.8 L-48 -12.8 Q-50.4 -12.8 -50.3 -15 L-48.8 -120.4 Q-48.7 -122.6 -46.5 -122.6 Z" fill="#fff"/>
<g clip-path="url(#labClip)"><use href="#dots"/></g>
<path d="M23.1 -123.9 C17 -123.9 13.5 -119 15 -112 L24.3 -80 C26 -73 30 -70.6 34 -70.7 C38 -70.8 39.8 -74 39.4 -80 L36.4 -112 C35.5 -120 30 -123.9 23.1 -123.9 Z" fill="#cccccc"/>
<path d="M-31 -192.5 L11 -192.5 L13 -166 L-33.3 -166 Z" fill="url(#capR)" stroke="url(#capR)" stroke-width="0.8" stroke-linejoin="round"/>
<rect x="-37.2" y="-166.4" width="54.2" height="11.6" rx="1.5" fill="url(#capR)"/>
</g>
<rect x="49.5" y="1574.3" width="393.4" height="7.2" fill="#000" />
<rect x="549.5" y="1574.3" width="394.5" height="7.2" fill="#000" />
<path d="M155.5 1383.6 L322.5 1398.4" stroke="#000" stroke-width="5.2" stroke-dasharray="7.5 6.5" fill="none"/>
<path d="M649.5 1367.0 L806.0 1345.2" stroke="#000" stroke-width="5.2" stroke-dasharray="7.5 6.5" fill="none"/>
<text x="100.3" y="1366.0" font-size="36.5" font-weight="bold" fill="#cc0000" textLength="49.7" lengthAdjust="spacingAndGlyphs" stroke="#cc0000" stroke-width="1.3" stroke-linejoin="round">42</text>
<text x="149.5" y="1366.4" font-size="37.5" fill="#cc0000" textLength="37.0" lengthAdjust="spacingAndGlyphs" stroke="#cc0000" stroke-width="0.9" stroke-linejoin="round">%</text>
<text x="308.0" y="1380.9" font-size="36.5" font-weight="bold" fill="#cc0000" textLength="49.9" lengthAdjust="spacingAndGlyphs" stroke="#cc0000" stroke-width="1.3" stroke-linejoin="round">35</text>
<text x="357.5" y="1381.3" font-size="37.5" fill="#cc0000" textLength="37.2" lengthAdjust="spacingAndGlyphs" stroke="#cc0000" stroke-width="0.9" stroke-linejoin="round">%</text>
<text x="593.2" y="1353.4" font-size="36.5" font-weight="bold" fill="#cc0000" textLength="49.0" lengthAdjust="spacingAndGlyphs" stroke="#cc0000" stroke-width="1.3" stroke-linejoin="round">58</text>
<text x="641.7" y="1353.8" font-size="37.5" fill="#cc0000" textLength="36.6" lengthAdjust="spacingAndGlyphs" stroke="#cc0000" stroke-width="0.9" stroke-linejoin="round">%</text>
<text x="800.7" y="1329.8" font-size="36.5" font-weight="bold" fill="#cc0000" textLength="49.9" lengthAdjust="spacingAndGlyphs" stroke="#cc0000" stroke-width="1.3" stroke-linejoin="round">65</text>
<text x="850.1" y="1330.2" font-size="37.5" fill="#cc0000" textLength="37.2" lengthAdjust="spacingAndGlyphs" stroke="#cc0000" stroke-width="0.9" stroke-linejoin="round">%</text>
<text x="115.2" y="1613.3" font-size="26" font-weight="bold" textLength="53.7" lengthAdjust="spacingAndGlyphs">2011</text>
<text x="322.7" y="1613.3" font-size="26" font-weight="bold" textLength="56.6" lengthAdjust="spacingAndGlyphs">2014</text>
<text x="606.7" y="1613.3" font-size="26" font-weight="bold" textLength="55.0" lengthAdjust="spacingAndGlyphs">2011</text>
<text x="817.4" y="1613.3" font-size="26" font-weight="bold" textLength="55.9" lengthAdjust="spacingAndGlyphs">2014</text>
<text x="47.1" y="1642.6" font-size="15.5" font-style="italic" fill="#8a8a8a" textLength="878.2" lengthAdjust="spacingAndGlyphs">*No brands refers to items that are not identifiable, have no registered trademarks or brand logos and to categories that have weak</text>
<text x="53.7" y="1661.8" font-size="15.5" font-style="italic" fill="#8a8a8a" textLength="385.6" lengthAdjust="spacingAndGlyphs">brand attributes (such as hardware tools and handicrafts).</text>
<text x="79.5" y="1728.0" font-size="31" textLength="839.4" lengthAdjust="spacingAndGlyphs">Smaller brands benefit more from e-commerce than large brands</text>
<text x="206.4" y="1783.6" font-size="29" fill="#333" textLength="53.1" lengthAdjust="spacingAndGlyphs" stroke="#cccccc" stroke-width="0.7" stroke-linejoin="round">TOP</text>
<text x="609.7" y="1783.8" font-size="29" fill="#333" textLength="82.8" lengthAdjust="spacingAndGlyphs" stroke="#cccccc" stroke-width="0.7" stroke-linejoin="round">SMALL</text>
<rect x="124.7" y="1849.3" width="213.3" height="108.0" fill="#cc0000" />
<rect x="405.5" y="1810.8" width="213.6" height="147.0" fill="#333333" />
<rect x="682.0" y="1824.0" width="214.3" height="133.0" fill="#777777" />
<rect x="90.7" y="1956.6" width="849.0" height="7.8" fill="#000" />
<clipPath id="mtClip"><circle cx="231.6" cy="1890" r="31.4"/></clipPath>
<g clip-path="url(#mtClip)"><path d="M197.6 1909 L217.0 1888.6 L226.29999999999998 1895 L243.5 1875.7 L265.6 1895.5 L265.6 1924 L197.6 1924 Z" fill="#fff"/>
<path d="M217.0 1890.5 L215.4 1905 L218.79999999999998 1892 Z M217.0 1890.5 L211.1 1900 L215.79999999999998 1894 Z M217.0 1890.5 L224.1 1900 L218.6 1894 Z" fill="#cc0000"/>
<path d="M243.5 1877.5 L242.2 1894 L245.4 1880 Z M243.5 1877.5 L237.1 1889 L242.0 1882 Z M243.5 1877.5 L251.1 1889 L245.2 1882 Z" fill="#cc0000"/>
</g>
<circle cx="231.6" cy="1890" r="29.7" fill="none" stroke="#fff" stroke-width="3.4"/>
<ellipse cx="512.6" cy="1883" rx="36" ry="21.2" fill="none" stroke="#fff" stroke-width="3.8"/>
<ellipse cx="512.6" cy="1883" rx="24" ry="13.4" fill="none" stroke="#fff" stroke-width="3.3"/>
<ellipse cx="512.6" cy="1883" rx="12" ry="6.7" fill="#fff"/>
<rect x="507.0" y="1862" width="11.2" height="22" fill="#333333"/>
<rect x="508.70000000000005" y="1862" width="7.8" height="20.5" fill="#fff"/>
<ellipse cx="512.6" cy="1858.3" rx="21" ry="12" fill="#333333"/>
<ellipse cx="512.6" cy="1858.3" rx="19.3" ry="10.5" fill="#fff"/>
<path d="M499.0 1834 L499.0 1852 A13.6 7.5 0 0 0 526.2 1852 L526.2 1834 Z" fill="#333333"/>
<path d="M500.6 1834 L500.6 1851.5 A12 6.2 0 0 0 524.6 1851.5 L524.6 1834 Z" fill="#fff"/>
<ellipse cx="512.6" cy="1834.3" rx="17.2" ry="11.6" fill="#333333"/>
<ellipse cx="512.6" cy="1834.3" rx="15.8" ry="10.2" fill="#fff"/>
<path d="M768.1 1863.0 A21.4 21.4 0 1 1 797.5 1882.8 L797.5 1889.7 L781.3 1889.7 L781.3 1869.5 L781.9 1863.0 Z" fill="#fff"/>
<circle cx="789.5" cy="1863" r="7.6" fill="#777777"/>
<rect x="779.5" y="1864.2" width="6.5" height="5.2" fill="#777777"/>
<rect x="781.3" y="1891.3" width="16.2" height="2.9" rx="1" fill="#fff"/>
<rect x="781.3" y="1895.4" width="16.2" height="2.9" rx="1" fill="#fff"/>
<rect x="781.3" y="1899.5" width="16.2" height="2.9" rx="1" fill="#fff"/>
<path d="M783.0 1903.6 L796.0 1903.6 L789.5 1907.6 Z" fill="#fff"/>
<path d="M789.5 1837.8 L789.5 1830.6" stroke="#fff" stroke-width="3" stroke-linecap="round"/>
<path d="M807.3 1845.2 L812.4 1840.1" stroke="#fff" stroke-width="3" stroke-linecap="round"/>
<path d="M814.7 1863.0 L821.9 1863.0" stroke="#fff" stroke-width="3" stroke-linecap="round"/>
<path d="M807.3 1880.8 L812.4 1885.9" stroke="#fff" stroke-width="3" stroke-linecap="round"/>
<path d="M771.7 1880.8 L766.6 1885.9" stroke="#fff" stroke-width="3" stroke-linecap="round"/>
<path d="M764.3 1863.0 L757.1 1863.0" stroke="#fff" stroke-width="3" stroke-linecap="round"/>
<path d="M771.7 1845.2 L766.6 1840.1" stroke="#fff" stroke-width="3" stroke-linecap="round"/>
<text x="188.0" y="1946.6" font-size="19.5" fill="#fff" textLength="87.6" lengthAdjust="spacingAndGlyphs">Top brands</text>
<text x="436.1" y="1925.3" font-size="19.5" fill="#fff" textLength="147.9" lengthAdjust="spacingAndGlyphs">Regional and pure</text>
<text x="458.4" y="1947.0" font-size="19.5" fill="#fff" textLength="108.9" lengthAdjust="spacingAndGlyphs">online brands</text>
<text x="737.5" y="1927.9" font-size="19.5" fill="#fff" textLength="102.7" lengthAdjust="spacingAndGlyphs">Lesser-known</text>
<text x="761.7" y="1950.0" font-size="19.5" fill="#fff" textLength="56.2" lengthAdjust="spacingAndGlyphs">brands</text>
<text x="19.6" y="1999.8" font-size="20.5" font-weight="bold" textLength="120.2" lengthAdjust="spacingAndGlyphs">Share change</text>
<rect x="191.9" y="1993.7" width="11.2" height="6.0" fill="#cc0000" />
<text x="204.2" y="2007.6" font-size="38.5" font-weight="bold" fill="#cc0000" textLength="25.5" lengthAdjust="spacingAndGlyphs" stroke="#cc0000" stroke-width="1.4" stroke-linejoin="round">2</text>
<text x="228.2" y="2008.0" font-size="39.5" fill="#cc0000" textLength="37.2" lengthAdjust="spacingAndGlyphs" stroke="#cc0000" stroke-width="0.9" stroke-linejoin="round">%</text>
<rect x="475.4" y="1995.0" width="18.7" height="6.2" fill="#000" />
<rect x="481.6" y="1988.7" width="6.3" height="18.7" fill="#000" />
<text x="496.7" y="2007.6" font-size="38.5" font-weight="bold" textLength="26.2" lengthAdjust="spacingAndGlyphs" stroke="#000" stroke-width="1.4" stroke-linejoin="round">6</text>
<text x="521.4" y="2008.0" font-size="39.5" textLength="36.1" lengthAdjust="spacingAndGlyphs" stroke="#000" stroke-width="0.9" stroke-linejoin="round">%</text>
<rect x="749.7" y="1995.0" width="18.7" height="6.2" fill="#000" />
<rect x="755.9" y="1988.7" width="6.3" height="18.7" fill="#000" />
<text x="770.6" y="2007.6" font-size="38.5" font-weight="bold" textLength="25.6" lengthAdjust="spacingAndGlyphs" stroke="#000" stroke-width="1.4" stroke-linejoin="round">4</text>
<text x="795.8" y="2008.0" font-size="39.5" textLength="36.7" lengthAdjust="spacingAndGlyphs" stroke="#000" stroke-width="0.9" stroke-linejoin="round">%</text>
<text x="19.6" y="2042.6" font-size="15" font-style="italic" fill="#8a8a8a" textLength="582.7" lengthAdjust="spacingAndGlyphs">Source: Sales on Alibaba platform, which accounts for 80% of all online sales in China</text>
<rect x="0.0" y="2063.7" width="1000.0" height="635.0" fill="#cc0000" />
<rect x="295" y="2176" width="423" height="219" fill="#c70000"/>
<rect x="309.5" y="2189.5" width="394" height="191.5" fill="#d00202"/>
<path d="M360 2262 L392 2250 L410 2222 L452 2226 L470 2200 L500 2184 L540 2196 L572 2182 L600 2196 L618 2226 L596 2246 L570 2252 L560 2276 L586 2300 L580 2330 L556 2356 L520 2378 L488 2382 L468 2362 L440 2356 L420 2332 L392 2318 L372 2296 Z" fill="#c30000"/>
<path d="M566 2290 L600 2306 L590 2314 L650 2366 L640 2376 L582 2324 L574 2334 Z" fill="#c30000"/>
<path d="M322 2396 L690 2396 L807 2584 L260 2584 Z" fill="#cf0101"/>
<path d="M322 2396 L690 2396 L697 2408 L315 2408 Z" fill="#c80000"/>
<path d="M260 2584 L807 2584 L807 2594 L260 2594 Z" fill="#c60000"/>
<path d="M345.5 2413 L662 2413 L738 2515 L316 2515 Z" fill="#c50000"/>
<path d="M339.6 2433.4 L677.2 2433.4" stroke="#cf0101" stroke-width="1.3"/>
<path d="M333.7 2453.8 L692.4 2453.8" stroke="#cf0101" stroke-width="1.3"/>
<path d="M327.8 2474.2 L707.6 2474.2" stroke="#cf0101" stroke-width="1.3"/>
<path d="M321.9 2494.6 L722.8 2494.6" stroke="#cf0101" stroke-width="1.3"/>
<path d="M368.1 2413 L346.1 2515" stroke="#cf0101" stroke-width="1.3"/>
<path d="M390.7 2413 L376.3 2515" stroke="#cf0101" stroke-width="1.3"/>
<path d="M413.3 2413 L406.4 2515" stroke="#cf0101" stroke-width="1.3"/>
<path d="M435.9 2413 L436.6 2515" stroke="#cf0101" stroke-width="1.3"/>
<path d="M458.5 2413 L466.7 2515" stroke="#cf0101" stroke-width="1.3"/>
<path d="M481.1 2413 L496.9 2515" stroke="#cf0101" stroke-width="1.3"/>
<path d="M503.8 2413 L527.0 2515" stroke="#cf0101" stroke-width="1.3"/>
<path d="M526.4 2413 L557.1 2515" stroke="#cf0101" stroke-width="1.3"/>
<path d="M549.0 2413 L587.3 2515" stroke="#cf0101" stroke-width="1.3"/>
<path d="M571.6 2413 L617.4 2515" stroke="#cf0101" stroke-width="1.3"/>
<path d="M594.2 2413 L647.6 2515" stroke="#cf0101" stroke-width="1.3"/>
<path d="M616.8 2413 L677.7 2515" stroke="#cf0101" stroke-width="1.3"/>
<path d="M639.4 2413 L707.9 2515" stroke="#cf0101" stroke-width="1.3"/>
<path d="M431 2520 L577.6 2520 L589.4 2578 L412.7 2578 Z" fill="#c30000"/>
<text x="107.5" y="2127.0" font-size="49.3" fill="#fff" textLength="134.5" lengthAdjust="spacingAndGlyphs" stroke="#cc0000" stroke-width="0.3" stroke-linejoin="round">WHAT</text>
<text x="256.9" y="2127.0" font-size="49.3" fill="#fff" textLength="132.3" lengthAdjust="spacingAndGlyphs" stroke="#cc0000" stroke-width="0.3" stroke-linejoin="round">DOES</text>
<text x="408.6" y="2127.0" font-size="49.3" fill="#fff" textLength="33.4" lengthAdjust="spacingAndGlyphs" stroke="#cc0000" stroke-width="0.3" stroke-linejoin="round">IT</text>
<text x="453.9" y="2127.0" font-size="49.3" fill="#fff" textLength="102.7" lengthAdjust="spacingAndGlyphs" stroke="#cc0000" stroke-width="0.3" stroke-linejoin="round">TAKE</text>
<text x="571.2" y="2127.0" font-size="49.3" fill="#fff" textLength="52.1" lengthAdjust="spacingAndGlyphs" stroke="#cc0000" stroke-width="0.3" stroke-linejoin="round">TO</text>
<text x="638.4" y="2127.0" font-size="49.3" fill="#fff" textLength="202.3" lengthAdjust="spacingAndGlyphs" stroke="#cc0000" stroke-width="0.3" stroke-linejoin="round">SUCCEED</text>
<text x="854.3" y="2127.0" font-size="49.3" fill="#fff" textLength="39.5" lengthAdjust="spacingAndGlyphs" stroke="#cc0000" stroke-width="0.3" stroke-linejoin="round">IN</text>
<text x="180.0" y="2181.9" font-size="49.3" fill="#fff" textLength="182.8" lengthAdjust="spacingAndGlyphs" stroke="#cc0000" stroke-width="0.3" stroke-linejoin="round">CHINA’S</text>
<text x="380.0" y="2181.9" font-size="49.3" fill="#fff" textLength="213.0" lengthAdjust="spacingAndGlyphs" stroke="#cc0000" stroke-width="0.3" stroke-linejoin="round">BRANDED</text>
<text x="609.6" y="2181.9" font-size="49.3" fill="#fff" textLength="211.9" lengthAdjust="spacingAndGlyphs" stroke="#cc0000" stroke-width="0.3" stroke-linejoin="round">INTERNET?</text>
<text x="47.1" y="2233.0" font-size="30.5" font-weight="bold" textLength="113.5" lengthAdjust="spacingAndGlyphs">Winners</text>
<text x="166.3" y="2233.0" font-size="30.5" font-weight="bold" textLength="74.0" lengthAdjust="spacingAndGlyphs">make</text>
<text x="247.1" y="2233.0" font-size="30.5" font-weight="bold" textLength="114.2" lengthAdjust="spacingAndGlyphs">different</text>
<text x="369.7" y="2233.0" font-size="30.5" font-weight="bold" textLength="83.2" lengthAdjust="spacingAndGlyphs">moves</text>
<text x="460.2" y="2233.0" font-size="30.5" font-weight="bold" textLength="75.1" lengthAdjust="spacingAndGlyphs">based</text>
<text x="545.4" y="2233.0" font-size="30.5" font-weight="bold" textLength="29.9" lengthAdjust="spacingAndGlyphs">on</text>
<text x="586.7" y="2233.0" font-size="30.5" font-weight="bold" textLength="58.6" lengthAdjust="spacingAndGlyphs">their</text>
<text x="655.3" y="2233.0" font-size="30.5" font-weight="bold" textLength="65.8" lengthAdjust="spacingAndGlyphs">stage</text>
<text x="732.2" y="2233.0" font-size="30.5" font-weight="bold" textLength="26.1" lengthAdjust="spacingAndGlyphs">of</text>
<text x="769.0" y="2233.0" font-size="30.5" font-weight="bold" textLength="174.6" lengthAdjust="spacingAndGlyphs">development</text>
<text x="190.0" y="2296.7" font-size="31.5" font-weight="bold" fill="#fff" textLength="158.3" lengthAdjust="spacingAndGlyphs" stroke="#fff" stroke-width="0.9" stroke-linejoin="round">Beginners</text>
<text x="190.0" y="2411.3" font-size="31.5" font-weight="bold" fill="#fff" textLength="218.9" lengthAdjust="spacingAndGlyphs" stroke="#fff" stroke-width="0.9" stroke-linejoin="round">Intermediates</text>
<text x="190.0" y="2570.0" font-size="31.5" font-weight="bold" fill="#fff" textLength="118.6" lengthAdjust="spacingAndGlyphs" stroke="#fff" stroke-width="0.9" stroke-linejoin="round">Experts</text>
<circle cx="196.6" cy="2324.8" r="3.9" fill="#000"/>
<text x="210.0" y="2333.0" font-size="22.5" textLength="690.3" lengthAdjust="spacingAndGlyphs">Build standalone online marketing and sales systems, supplemented with</text>
<text x="210.0" y="2360.2" font-size="22.5" textLength="241.9" lengthAdjust="spacingAndGlyphs">a small digital sales team</text>
<circle cx="196.6" cy="2439.8" r="3.9" fill="#000"/>
<text x="210.0" y="2448.0" font-size="22.5" textLength="676.8" lengthAdjust="spacingAndGlyphs">Integrate online and offline channels to improve consumer engagement</text>
<circle cx="196.6" cy="2478.8" r="3.9" fill="#000"/>
<text x="210.0" y="2487.0" font-size="22.5" textLength="634.0" lengthAdjust="spacingAndGlyphs">Rely on a full-function digital team or an integrated team for online</text>
<text x="210.0" y="2515.5" font-size="22.5" textLength="191.8" lengthAdjust="spacingAndGlyphs">and offline channels</text>
<circle cx="196.6" cy="2598.3" r="3.9" fill="#000"/>
<text x="210.0" y="2606.5" font-size="22.5" textLength="669.3" lengthAdjust="spacingAndGlyphs">Disrupt established business models to create innovative, consumer-led</text>
<text x="210.0" y="2634.0" font-size="22.5" textLength="245.3" lengthAdjust="spacingAndGlyphs">products and experiences</text>
<circle cx="196.6" cy="2662.3" r="3.9" fill="#000"/>
<text x="210.0" y="2670.5" font-size="22.5" textLength="576.0" lengthAdjust="spacingAndGlyphs">Create project teams focused on multiple consumer segments</text>
<g transform="translate(30,2240) scale(0.17582)">
<path d="M285 380 L160 545 Q155 565 175 580 L272 642 L560 642 L648 580 Q665 562 655 545 L545 380 Z" fill="#000" stroke="#fff" stroke-width="4" stroke-linejoin="round"/>
<path d="M288 392 L288 220 A122 130 0 0 1 532 220 L532 392 Z" fill="#000"/>
<path d="M288 380 L288 220 A122 130 0 0 1 532 220 L532 380" fill="none" stroke="#fff" stroke-width="3.5"/>
<path d="M298 214 A112 116 0 0 1 522 214" fill="none" stroke="#fff" stroke-width="2"/>
<rect x="268" y="210" width="20" height="66" fill="#000" stroke="#fff" stroke-width="4"/><rect x="530" y="210" width="20" height="66" fill="#000" stroke="#fff" stroke-width="4"/>
<path d="M298 240 Q340 215 372 172 Q420 225 515 238 Q520 275 500 300 Q480 330 455 345 L458 380 L435 465 L388 465 L362 380 L362 335 Q305 300 298 240 Z" fill="#f4f5f7"/>
<path d="M437 297 L512 268" stroke="#000" stroke-width="9"/><circle cx="437" cy="297" r="14" fill="#000"/>
<path d="M255 480 L565 480 L540 700 L285 700 Z" fill="#000" stroke="#fff" stroke-width="4.5" stroke-linejoin="round"/>
<path d="M288 686 L538 686" stroke="#fff" stroke-width="3"/>
</g>
<g transform="translate(20,2380) scale(0.17582)" fill="#000" stroke="#fff" stroke-width="7" stroke-linejoin="round">
<path d="M150 260 Q150 180 240 180 Q335 180 335 260 L335 290 L150 290 Z"/>
<path d="M500 260 Q500 182 595 182 Q690 182 690 260 L690 300 L500 300 Z"/>
<circle cx="237" cy="140" r="56"/><circle cx="595" cy="135" r="62"/>
<rect x="62" y="284" width="214" height="186"/><rect x="556" y="296" width="238" height="208"/>
<path d="M115 218 L236 218 L244 282 L124 282 Z"/><path d="M598 224 L730 224 L722 292 L590 292 Z"/>
<path d="M320 340 Q320 215 435 215 Q550 215 550 340 Z"/><circle cx="430" cy="165" r="67"/>
<path d="M275 262 L424 262 L432 340 L284 340 Z"/>
<path d="M170 342 L664 342 L664 400 L634 400 L634 574 L202 574 L202 400 L170 400 Z"/>
</g>
<g transform="translate(20,2500) scale(0.17582)">
<path d="M140 180 L272 60 L668 265 L668 830 L270 800 L140 815 Z" fill="#000" stroke="#fff" stroke-width="6" stroke-linejoin="round"/>
<path d="M115 822 L270 800 L700 845 L700 985 L115 985 Z" fill="#000" stroke="#fff" stroke-width="6" stroke-linejoin="round"/>
<path d="M158 206 L172 194 L172 226 L158 238 Z" fill="#f4f4f4"/>
<path d="M181 185 L195 173 L195 206 L181 218 Z" fill="#f4f4f4"/>
<path d="M204 164 L218 152 L218 186 L204 198 Z" fill="#f4f4f4"/>
<path d="M227 143 L241 131 L241 166 L227 178 Z" fill="#f4f4f4"/>
<path d="M250 122 L264 110 L264 146 L250 158 Z" fill="#f4f4f4"/>
<path d="M158 247 L172 235 L172 267 L158 279 Z" fill="#f4f4f4"/>
<path d="M181 227 L195 215 L195 248 L181 260 Z" fill="#f4f4f4"/>
<path d="M204 208 L218 196 L218 230 L204 242 Z" fill="#f4f4f4"/>
<path d="M227 188 L241 176 L241 211 L227 223 Z" fill="#f4f4f4"/>
<path d="M250 168 L264 156 L264 193 L250 205 Z" fill="#f4f4f4"/>
<path d="M158 288 L172 276 L172 308 L158 320 Z" fill="#f4f4f4"/>
<path d="M181 270 L195 258 L195 291 L181 303 Z" fill="#f4f4f4"/>
<path d="M204 252 L218 240 L218 274 L204 286 Z" fill="#f4f4f4"/>
<path d="M227 233 L241 221 L241 256 L227 268 Z" fill="#f4f4f4"/>
<path d="M250 215 L264 203 L264 239 L250 251 Z" fill="#f4f4f4"/>
<path d="M158 329 L172 317 L172 350 L158 362 Z" fill="#f4f4f4"/>
<path d="M181 312 L195 300 L195 334 L181 346 Z" fill="#f4f4f4"/>
<path d="M204 295 L218 283 L218 318 L204 330 Z" fill="#f4f4f4"/>
<path d="M227 278 L241 266 L241 302 L227 314 Z" fill="#f4f4f4"/>
<path d="M250 261 L264 249 L264 286 L250 298 Z" fill="#f4f4f4"/>
<path d="M158 371 L172 359 L172 391 L158 403 Z" fill="#f4f4f4"/>
<path d="M181 355 L195 343 L195 376 L181 388 Z" fill="#f4f4f4"/>
<path d="M204 339 L218 327 L218 361 L204 373 Z" fill="#f4f4f4"/>
<path d="M227 323 L241 311 L241 347 L227 359 Z" fill="#f4f4f4"/>
<path d="M250 308 L264 296 L264 332 L250 344 Z" fill="#f4f4f4"/>
<path d="M158 412 L172 400 L172 432 L158 444 Z" fill="#f4f4f4"/>
<path d="M181 397 L195 385 L195 419 L181 431 Z" fill="#f4f4f4"/>
<path d="M204 383 L218 371 L218 405 L204 417 Z" fill="#f4f4f4"/>
<path d="M227 369 L241 357 L241 392 L227 404 Z" fill="#f4f4f4"/>
<path d="M250 354 L264 342 L264 378 L250 390 Z" fill="#f4f4f4"/>
<path d="M158 453 L172 441 L172 473 L158 485 Z" fill="#f4f4f4"/>
<path d="M181 440 L195 428 L195 461 L181 473 Z" fill="#f4f4f4"/>
<path d="M204 427 L218 415 L218 449 L204 461 Z" fill="#f4f4f4"/>
<path d="M227 414 L241 402 L241 437 L227 449 Z" fill="#f4f4f4"/>
<path d="M250 401 L264 389 L264 425 L250 437 Z" fill="#f4f4f4"/>
<path d="M158 494 L172 482 L172 514 L158 526 Z" fill="#f4f4f4"/>
<path d="M181 482 L195 470 L195 504 L181 516 Z" fill="#f4f4f4"/>
<path d="M204 471 L218 459 L218 493 L204 505 Z" fill="#f4f4f4"/>
<path d="M227 459 L241 447 L241 482 L227 494 Z" fill="#f4f4f4"/>
<path d="M250 447 L264 435 L264 471 L250 483 Z" fill="#f4f4f4"/>
<path d="M158 536 L172 524 L172 556 L158 568 Z" fill="#f4f4f4"/>
<path d="M181 525 L195 513 L195 546 L181 558 Z" fill="#f4f4f4"/>
<path d="M204 515 L218 503 L218 537 L204 549 Z" fill="#f4f4f4"/>
<path d="M227 504 L241 492 L241 527 L227 539 Z" fill="#f4f4f4"/>
<path d="M250 494 L264 482 L264 518 L250 530 Z" fill="#f4f4f4"/>
<path d="M158 577 L172 565 L172 597 L158 609 Z" fill="#f4f4f4"/>
<path d="M181 568 L195 556 L195 589 L181 601 Z" fill="#f4f4f4"/>
<path d="M204 558 L218 546 L218 581 L204 593 Z" fill="#f4f4f4"/>
<path d="M227 549 L241 537 L241 572 L227 584 Z" fill="#f4f4f4"/>
<path d="M250 540 L264 528 L264 564 L250 576 Z" fill="#f4f4f4"/>
<path d="M158 618 L172 606 L172 638 L158 650 Z" fill="#f4f4f4"/>
<path d="M181 610 L195 598 L195 631 L181 643 Z" fill="#f4f4f4"/>
<path d="M204 602 L218 590 L218 624 L204 636 Z" fill="#f4f4f4"/>
<path d="M227 594 L241 582 L241 618 L227 630 Z" fill="#f4f4f4"/>
<path d="M250 587 L264 575 L264 611 L250 623 Z" fill="#f4f4f4"/>
<path d="M158 659 L172 647 L172 679 L158 691 Z" fill="#f4f4f4"/>
<path d="M181 653 L195 641 L195 674 L181 686 Z" fill="#f4f4f4"/>
<path d="M204 646 L218 634 L218 668 L204 680 Z" fill="#f4f4f4"/>
<path d="M227 640 L241 628 L241 663 L227 675 Z" fill="#f4f4f4"/>
<path d="M250 633 L264 621 L264 657 L250 669 Z" fill="#f4f4f4"/>
<path d="M158 700 L172 688 L172 721 L158 733 Z" fill="#f4f4f4"/>
<path d="M181 695 L195 683 L195 716 L181 728 Z" fill="#f4f4f4"/>
<path d="M204 690 L218 678 L218 712 L204 724 Z" fill="#f4f4f4"/>
<path d="M227 685 L241 673 L241 708 L227 720 Z" fill="#f4f4f4"/>
<path d="M250 679 L264 667 L264 704 L250 716 Z" fill="#f4f4f4"/>
<path d="M158 742 L172 730 L172 762 L158 774 Z" fill="#f4f4f4"/>
<path d="M181 738 L195 726 L195 759 L181 771 Z" fill="#f4f4f4"/>
<path d="M204 734 L218 722 L218 756 L204 768 Z" fill="#f4f4f4"/>
<path d="M227 730 L241 718 L241 753 L227 765 Z" fill="#f4f4f4"/>
<path d="M250 726 L264 714 L264 750 L250 762 Z" fill="#f4f4f4"/>
<path d="M298 121 L316 130 L316 166 L298 157 Z" fill="#f4f4f4"/>
<path d="M322 134 L340 143 L340 178 L322 169 Z" fill="#f4f4f4"/>
<path d="M352 149 L370 158 L370 192 L352 183 Z" fill="#f4f4f4"/>
<path d="M376 162 L394 171 L394 204 L376 195 Z" fill="#f4f4f4"/>
<path d="M406 177 L424 186 L424 219 L406 210 Z" fill="#f4f4f4"/>
<path d="M430 190 L448 199 L448 231 L430 222 Z" fill="#f4f4f4"/>
<path d="M458 204 L476 213 L476 245 L458 236 Z" fill="#f4f4f4"/>
<path d="M506 229 L524 238 L524 268 L506 259 Z" fill="#f4f4f4"/>
<path d="M530 242 L548 251 L548 280 L530 271 Z" fill="#f4f4f4"/>
<path d="M556 255 L574 264 L574 293 L556 284 Z" fill="#f4f4f4"/>
<path d="M580 267 L598 276 L598 305 L580 296 Z" fill="#f4f4f4"/>
<path d="M606 281 L624 290 L624 318 L606 309 Z" fill="#f4f4f4"/>
<path d="M630 293 L648 302 L648 330 L630 321 Z" fill="#f4f4f4"/>
<path d="M298 168 L316 177 L316 212 L298 203 Z" fill="#f4f4f4"/>
<path d="M322 180 L340 189 L340 223 L322 214 Z" fill="#f4f4f4"/>
<path d="M352 194 L370 203 L370 237 L352 228 Z" fill="#f4f4f4"/>
<path d="M376 206 L394 215 L394 248 L376 239 Z" fill="#f4f4f4"/>
<path d="M406 220 L424 229 L424 262 L406 253 Z" fill="#f4f4f4"/>
<path d="M430 232 L448 241 L448 273 L430 264 Z" fill="#f4f4f4"/>
<path d="M458 246 L476 255 L476 286 L458 277 Z" fill="#f4f4f4"/>
<path d="M506 269 L524 278 L524 308 L506 299 Z" fill="#f4f4f4"/>
<path d="M530 281 L548 290 L548 319 L530 310 Z" fill="#f4f4f4"/>
<path d="M556 293 L574 302 L574 331 L556 322 Z" fill="#f4f4f4"/>
<path d="M580 305 L598 314 L598 343 L580 334 Z" fill="#f4f4f4"/>
<path d="M606 318 L624 327 L624 355 L606 346 Z" fill="#f4f4f4"/>
<path d="M630 329 L648 338 L648 366 L630 357 Z" fill="#f4f4f4"/>
<path d="M298 214 L316 223 L316 259 L298 250 Z" fill="#f4f4f4"/>
<path d="M322 225 L340 234 L340 269 L322 260 Z" fill="#f4f4f4"/>
<path d="M352 239 L370 248 L370 282 L352 273 Z" fill="#f4f4f4"/>
<path d="M376 250 L394 259 L394 292 L376 283 Z" fill="#f4f4f4"/>
<path d="M406 263 L424 272 L424 305 L406 296 Z" fill="#f4f4f4"/>
<path d="M430 274 L448 283 L448 316 L430 307 Z" fill="#f4f4f4"/>
<path d="M458 287 L476 296 L476 328 L458 319 Z" fill="#f4f4f4"/>
<path d="M506 309 L524 318 L524 348 L506 339 Z" fill="#f4f4f4"/>
<path d="M530 320 L548 329 L548 359 L530 350 Z" fill="#f4f4f4"/>
<path d="M556 332 L574 341 L574 370 L556 361 Z" fill="#f4f4f4"/>
<path d="M580 343 L598 352 L598 380 L580 371 Z" fill="#f4f4f4"/>
<path d="M606 354 L624 363 L624 391 L606 382 Z" fill="#f4f4f4"/>
<path d="M630 365 L648 374 L648 402 L630 393 Z" fill="#f4f4f4"/>
<path d="M298 261 L316 270 L316 305 L298 296 Z" fill="#f4f4f4"/>
<path d="M322 271 L340 280 L340 315 L322 306 Z" fill="#f4f4f4"/>
<path d="M352 284 L370 293 L370 327 L352 318 Z" fill="#f4f4f4"/>
<path d="M376 294 L394 303 L394 336 L376 327 Z" fill="#f4f4f4"/>
<path d="M406 307 L424 316 L424 348 L406 339 Z" fill="#f4f4f4"/>
<path d="M430 317 L448 326 L448 358 L430 349 Z" fill="#f4f4f4"/>
<path d="M458 329 L476 338 L476 369 L458 360 Z" fill="#f4f4f4"/>
<path d="M506 349 L524 358 L524 388 L506 379 Z" fill="#f4f4f4"/>
<path d="M530 359 L548 368 L548 398 L530 389 Z" fill="#f4f4f4"/>
<path d="M556 370 L574 379 L574 408 L556 399 Z" fill="#f4f4f4"/>
<path d="M580 380 L598 389 L598 418 L580 409 Z" fill="#f4f4f4"/>
<path d="M606 391 L624 400 L624 428 L606 419 Z" fill="#f4f4f4"/>
<path d="M630 401 L648 410 L648 438 L630 429 Z" fill="#f4f4f4"/>
<path d="M298 307 L316 316 L316 352 L298 343 Z" fill="#f4f4f4"/>
<path d="M322 317 L340 326 L340 360 L322 351 Z" fill="#f4f4f4"/>
<path d="M352 328 L370 337 L370 372 L352 363 Z" fill="#f4f4f4"/>
<path d="M376 338 L394 347 L394 380 L376 371 Z" fill="#f4f4f4"/>
<path d="M406 350 L424 359 L424 391 L406 382 Z" fill="#f4f4f4"/>
<path d="M430 359 L448 368 L448 400 L430 391 Z" fill="#f4f4f4"/>
<path d="M458 370 L476 379 L476 410 L458 401 Z" fill="#f4f4f4"/>
<path d="M506 389 L524 398 L524 428 L506 419 Z" fill="#f4f4f4"/>
<path d="M530 398 L548 407 L548 437 L530 428 Z" fill="#f4f4f4"/>
<path d="M556 408 L574 417 L574 446 L556 437 Z" fill="#f4f4f4"/>
<path d="M580 418 L598 427 L598 455 L580 446 Z" fill="#f4f4f4"/>
<path d="M606 428 L624 437 L624 465 L606 456 Z" fill="#f4f4f4"/>
<path d="M630 437 L648 446 L648 474 L630 465 Z" fill="#f4f4f4"/>
<path d="M298 354 L316 363 L316 398 L298 389 Z" fill="#f4f4f4"/>
<path d="M322 362 L340 371 L340 406 L322 397 Z" fill="#f4f4f4"/>
<path d="M352 373 L370 382 L370 416 L352 407 Z" fill="#f4f4f4"/>
<path d="M376 382 L394 391 L394 424 L376 415 Z" fill="#f4f4f4"/>
<path d="M406 393 L424 402 L424 434 L406 425 Z" fill="#f4f4f4"/>
<path d="M430 401 L448 410 L448 442 L430 433 Z" fill="#f4f4f4"/>
<path d="M458 411 L476 420 L476 452 L458 443 Z" fill="#f4f4f4"/>
<path d="M506 429 L524 438 L524 468 L506 459 Z" fill="#f4f4f4"/>
<path d="M530 437 L548 446 L548 476 L530 467 Z" fill="#f4f4f4"/>
<path d="M556 447 L574 456 L574 485 L556 476 Z" fill="#f4f4f4"/>
<path d="M580 455 L598 464 L598 493 L580 484 Z" fill="#f4f4f4"/>
<path d="M606 465 L624 474 L624 502 L606 493 Z" fill="#f4f4f4"/>
<path d="M630 473 L648 482 L648 510 L630 501 Z" fill="#f4f4f4"/>
<path d="M298 400 L316 409 L316 445 L298 436 Z" fill="#f4f4f4"/>
<path d="M322 408 L340 417 L340 452 L322 443 Z" fill="#f4f4f4"/>
<path d="M352 418 L370 427 L370 461 L352 452 Z" fill="#f4f4f4"/>
<path d="M376 426 L394 435 L394 468 L376 459 Z" fill="#f4f4f4"/>
<path d="M406 436 L424 445 L424 477 L406 468 Z" fill="#f4f4f4"/>
<path d="M430 444 L448 453 L448 485 L430 476 Z" fill="#f4f4f4"/>
<path d="M458 453 L476 462 L476 493 L458 484 Z" fill="#f4f4f4"/>
<path d="M506 469 L524 478 L524 508 L506 499 Z" fill="#f4f4f4"/>
<path d="M530 476 L548 485 L548 515 L530 506 Z" fill="#f4f4f4"/>
<path d="M556 485 L574 494 L574 523 L556 514 Z" fill="#f4f4f4"/>
<path d="M580 493 L598 502 L598 530 L580 521 Z" fill="#f4f4f4"/>
<path d="M606 501 L624 510 L624 538 L606 529 Z" fill="#f4f4f4"/>
<path d="M630 509 L648 518 L648 546 L630 537 Z" fill="#f4f4f4"/>
<path d="M298 447 L316 456 L316 491 L298 482 Z" fill="#f4f4f4"/>
<path d="M322 454 L340 463 L340 498 L322 489 Z" fill="#f4f4f4"/>
<path d="M352 463 L370 472 L370 506 L352 497 Z" fill="#f4f4f4"/>
<path d="M376 470 L394 479 L394 512 L376 503 Z" fill="#f4f4f4"/>
<path d="M406 479 L424 488 L424 521 L406 512 Z" fill="#f4f4f4"/>
<path d="M430 486 L448 495 L448 527 L430 518 Z" fill="#f4f4f4"/>
<path d="M458 494 L476 503 L476 535 L458 526 Z" fill="#f4f4f4"/>
<path d="M506 508 L524 517 L524 548 L506 539 Z" fill="#f4f4f4"/>
<path d="M530 516 L548 525 L548 554 L530 545 Z" fill="#f4f4f4"/>
<path d="M556 523 L574 532 L574 561 L556 552 Z" fill="#f4f4f4"/>
<path d="M580 530 L598 539 L598 568 L580 559 Z" fill="#f4f4f4"/>
<path d="M606 538 L624 547 L624 575 L606 566 Z" fill="#f4f4f4"/>
<path d="M630 545 L648 554 L648 582 L630 573 Z" fill="#f4f4f4"/>
<path d="M298 493 L316 502 L316 538 L298 529 Z" fill="#f4f4f4"/>
<path d="M322 500 L340 509 L340 543 L322 534 Z" fill="#f4f4f4"/>
<path d="M352 508 L370 517 L370 551 L352 542 Z" fill="#f4f4f4"/>
<path d="M376 514 L394 523 L394 556 L376 547 Z" fill="#f4f4f4"/>
<path d="M406 522 L424 531 L424 564 L406 555 Z" fill="#f4f4f4"/>
<path d="M430 528 L448 537 L448 569 L430 560 Z" fill="#f4f4f4"/>
<path d="M458 536 L476 545 L476 576 L458 567 Z" fill="#f4f4f4"/>
<path d="M506 548 L524 557 L524 588 L506 579 Z" fill="#f4f4f4"/>
<path d="M530 555 L548 564 L548 593 L530 584 Z" fill="#f4f4f4"/>
<path d="M556 562 L574 571 L574 600 L556 591 Z" fill="#f4f4f4"/>
<path d="M580 568 L598 577 L598 606 L580 597 Z" fill="#f4f4f4"/>
<path d="M606 575 L624 584 L624 612 L606 603 Z" fill="#f4f4f4"/>
<path d="M630 581 L648 590 L648 618 L630 609 Z" fill="#f4f4f4"/>
<path d="M298 540 L316 549 L316 584 L298 575 Z" fill="#f4f4f4"/>
<path d="M322 545 L340 554 L340 589 L322 580 Z" fill="#f4f4f4"/>
<path d="M352 552 L370 561 L370 595 L352 586 Z" fill="#f4f4f4"/>
<path d="M376 558 L394 567 L394 600 L376 591 Z" fill="#f4f4f4"/>
<path d="M406 565 L424 574 L424 607 L406 598 Z" fill="#f4f4f4"/>
<path d="M430 571 L448 580 L448 612 L430 603 Z" fill="#f4f4f4"/>
<path d="M458 577 L476 586 L476 618 L458 609 Z" fill="#f4f4f4"/>
<path d="M506 588 L524 597 L524 628 L506 619 Z" fill="#f4f4f4"/>
<path d="M530 594 L548 603 L548 633 L530 624 Z" fill="#f4f4f4"/>
<path d="M556 600 L574 609 L574 638 L556 629 Z" fill="#f4f4f4"/>
<path d="M580 606 L598 615 L598 643 L580 634 Z" fill="#f4f4f4"/>
<path d="M606 612 L624 621 L624 649 L606 640 Z" fill="#f4f4f4"/>
<path d="M630 617 L648 626 L648 654 L630 645 Z" fill="#f4f4f4"/>
<path d="M298 586 L316 595 L316 631 L298 622 Z" fill="#f4f4f4"/>
<path d="M322 591 L340 600 L340 635 L322 626 Z" fill="#f4f4f4"/>
<path d="M352 597 L370 606 L370 640 L352 631 Z" fill="#f4f4f4"/>
<path d="M376 602 L394 611 L394 644 L376 635 Z" fill="#f4f4f4"/>
<path d="M406 608 L424 617 L424 650 L406 641 Z" fill="#f4f4f4"/>
<path d="M430 613 L448 622 L448 654 L430 645 Z" fill="#f4f4f4"/>
<path d="M458 618 L476 627 L476 659 L458 650 Z" fill="#f4f4f4"/>
<path d="M506 628 L524 637 L524 668 L506 659 Z" fill="#f4f4f4"/>
<path d="M530 633 L548 642 L548 672 L530 663 Z" fill="#f4f4f4"/>
<path d="M556 638 L574 647 L574 676 L556 667 Z" fill="#f4f4f4"/>
<path d="M580 643 L598 652 L598 681 L580 672 Z" fill="#f4f4f4"/>
<path d="M606 648 L624 657 L624 685 L606 676 Z" fill="#f4f4f4"/>
<path d="M630 653 L648 662 L648 690 L630 681 Z" fill="#f4f4f4"/>
<path d="M298 633 L316 642 L316 677 L298 668 Z" fill="#f4f4f4"/>
<path d="M322 637 L340 646 L340 681 L322 672 Z" fill="#f4f4f4"/>
<path d="M352 642 L370 651 L370 685 L352 676 Z" fill="#f4f4f4"/>
<path d="M376 646 L394 655 L394 688 L376 679 Z" fill="#f4f4f4"/>
<path d="M406 651 L424 660 L424 693 L406 684 Z" fill="#f4f4f4"/>
<path d="M430 655 L448 664 L448 696 L430 687 Z" fill="#f4f4f4"/>
<path d="M458 660 L476 669 L476 700 L458 691 Z" fill="#f4f4f4"/>
<path d="M506 668 L524 677 L524 707 L506 698 Z" fill="#f4f4f4"/>
<path d="M530 672 L548 681 L548 711 L530 702 Z" fill="#f4f4f4"/>
<path d="M556 677 L574 686 L574 715 L556 706 Z" fill="#f4f4f4"/>
<path d="M580 681 L598 690 L598 718 L580 709 Z" fill="#f4f4f4"/>
<path d="M606 685 L624 694 L624 722 L606 713 Z" fill="#f4f4f4"/>
<path d="M630 689 L648 698 L648 726 L630 717 Z" fill="#f4f4f4"/>
<path d="M298 679 L316 688 L316 723 L298 714 Z" fill="#f4f4f4"/>
<path d="M322 682 L340 691 L340 726 L322 717 Z" fill="#f4f4f4"/>
<path d="M352 687 L370 696 L370 730 L352 721 Z" fill="#f4f4f4"/>
<path d="M376 690 L394 699 L394 732 L376 723 Z" fill="#f4f4f4"/>
<path d="M406 694 L424 703 L424 736 L406 727 Z" fill="#f4f4f4"/>
<path d="M430 697 L448 706 L448 739 L430 730 Z" fill="#f4f4f4"/>
<path d="M458 701 L476 710 L476 742 L458 733 Z" fill="#f4f4f4"/>
<path d="M506 708 L524 717 L524 747 L506 738 Z" fill="#f4f4f4"/>
<path d="M530 711 L548 720 L548 750 L530 741 Z" fill="#f4f4f4"/>
<path d="M556 715 L574 724 L574 753 L556 744 Z" fill="#f4f4f4"/>
<path d="M580 718 L598 727 L598 756 L580 747 Z" fill="#f4f4f4"/>
<path d="M606 722 L624 731 L624 759 L606 750 Z" fill="#f4f4f4"/>
<path d="M630 725 L648 734 L648 762 L630 753 Z" fill="#f4f4f4"/>
<path d="M298 726 L316 735 L316 770 L298 761 Z" fill="#f4f4f4"/>
<path d="M322 728 L340 737 L340 772 L322 763 Z" fill="#f4f4f4"/>
<path d="M352 731 L370 740 L370 774 L352 765 Z" fill="#f4f4f4"/>
<path d="M376 734 L394 743 L394 776 L376 767 Z" fill="#f4f4f4"/>
<path d="M406 737 L424 746 L424 779 L406 770 Z" fill="#f4f4f4"/>
<path d="M430 740 L448 749 L448 781 L430 772 Z" fill="#f4f4f4"/>
<path d="M458 743 L476 752 L476 783 L458 774 Z" fill="#f4f4f4"/>
<path d="M506 748 L524 757 L524 787 L506 778 Z" fill="#f4f4f4"/>
<path d="M530 750 L548 759 L548 789 L530 780 Z" fill="#f4f4f4"/>
<path d="M556 753 L574 762 L574 791 L556 782 Z" fill="#f4f4f4"/>
<path d="M580 756 L598 765 L598 793 L580 784 Z" fill="#f4f4f4"/>
<path d="M606 759 L624 768 L624 796 L606 787 Z" fill="#f4f4f4"/>
<path d="M630 761 L648 770 L648 797 L630 788 Z" fill="#f4f4f4"/>
<rect x="130" y="848" width="20" height="38" fill="#f4f4f4"/>
<rect x="158" y="844" width="20" height="38" fill="#f4f4f4"/>
<rect x="186" y="840" width="20" height="38" fill="#f4f4f4"/>
<rect x="212" y="836" width="20" height="38" fill="#f4f4f4"/>
<rect x="240" y="832" width="20" height="38" fill="#f4f4f4"/>
<rect x="286" y="832" width="38" height="44" fill="#f4f4f4"/>
<rect x="336" y="836" width="36" height="44" fill="#f4f4f4"/>
<rect x="386" y="840" width="34" height="44" fill="#f4f4f4"/>
<rect x="436" y="845" width="33" height="44" fill="#f4f4f4"/>
<rect x="480" y="849" width="31" height="44" fill="#f4f4f4"/>
<rect x="524" y="853" width="29" height="44" fill="#f4f4f4"/>
<rect x="566" y="857" width="27" height="44" fill="#f4f4f4"/>
<rect x="606" y="861" width="25" height="44" fill="#f4f4f4"/>
<rect x="640" y="866" width="24" height="44" fill="#f4f4f4"/>
<rect x="670" y="870" width="22" height="44" fill="#f4f4f4"/>
<path d="M312 982 L312 940 Q322 925 332 940 L332 982 Z" fill="#f4f4f4"/>
<path d="M352 982 L352 940 Q362 925 372 940 L372 982 Z" fill="#f4f4f4"/>
<path d="M436 982 L436 940 Q446 925 456 940 L456 982 Z" fill="#f4f4f4"/>
<path d="M470 982 L470 940 Q480 925 490 940 L490 982 Z" fill="#f4f4f4"/>
<path d="M540 982 L540 940 Q550 925 560 940 L560 982 Z" fill="#f4f4f4"/>
<path d="M572 982 L572 940 Q582 925 592 940 L592 982 Z" fill="#f4f4f4"/>
<path d="M632 982 L632 940 Q642 925 652 940 L652 982 Z" fill="#f4f4f4"/>
<path d="M660 982 L660 940 Q670 925 680 940 L680 982 Z" fill="#f4f4f4"/>
</g>
<rect x="0.0" y="2698.8" width="1000.0" height="134.0" fill="#000" />
<text x="23.2" y="2743.8" font-size="30" fill="#fff" textLength="143.1" lengthAdjust="spacingAndGlyphs" stroke="#000" stroke-width="0.5" stroke-linejoin="round">Read more:</text>
<defs><filter id="bl" x="-5%" y="-5%" width="110%" height="110%"><feGaussianBlur stdDeviation="0.9"/></filter><clipPath id="thc"><rect x="26" y="2762" width="53" height="50.2"/></clipPath></defs>
<rect x="26.0" y="2762.0" width="53.0" height="50.2" fill="#c8c8c8" />
<g clip-path="url(#thc)"><g filter="url(#bl)">
<rect x="20" y="2756" width="65" height="26" fill="#dedede"/>
<rect x="20" y="2795" width="30" height="22" fill="#d8d8d8"/>
<rect x="49" y="2770" width="13" height="27" fill="#8c8c8c"/><rect x="62" y="2764" width="17" height="12" fill="#a8a8a8"/><rect x="67" y="2777" width="12" height="22" fill="#777"/>
<circle cx="40" cy="2768" r="5" fill="#f0f0f0"/><circle cx="55" cy="2766" r="4" fill="#f2f2f2"/>
<path d="M31 2767 Q35 2764 38.5 2768 L38 2775 L35 2778 L31 2790 L29 2797 L27.5 2780 Z" fill="#2e2e2e"/>
<path d="M32 2774 L37 2772 L39 2792 L31 2794 Z" fill="#b4b4b4"/>
<path d="M31 2794 L38 2793 L36 2812 L30 2812 Z" fill="#333"/>
<rect x="38" y="2792" width="5" height="9" fill="#999"/>
<rect x="51" y="2789" width="24" height="6" fill="#555"/>
<rect x="52" y="2797" width="21" height="10" fill="#777"/>
</g>
<path d="M41.5 2791.3 L46.5 2791.3 L54 2810 L75.5 2808 L75.5 2797 L49 2795.5" fill="none" stroke="#111" stroke-width="1.7"/>
</g>
<text x="92.1" y="2774.0" font-size="15.5" font-weight="bold" fill="#cc0000" textLength="367.4" lengthAdjust="spacingAndGlyphs">China’s E-Commerce: The New Branding Game</text>
<text x="92.1" y="2791.6" font-size="11.5" fill="#fff" textLength="81.2" lengthAdjust="spacingAndGlyphs">December 2015</text>
<text x="92.1" y="2809.8" font-size="13.5" font-weight="bold" fill="#fff" textLength="191.6" lengthAdjust="spacingAndGlyphs">www.bain.com/china-brand</text>
<text x="758.1" y="2811.0" font-size="19" font-weight="bold" fill="#cc0000" textLength="181.8" lengthAdjust="spacingAndGlyphs">BAIN &amp; COMPANY</text>
<circle cx="963.7" cy="2804.3" r="10.2" fill="none" stroke="#cc0000" stroke-width="2.5"/>
<path d="M959.7 2803.3 L967.2 2795.8 L967.2 2806.3 Z" fill="#cc0000"/>
<path d="M967.2 2790.3 L969.2 2790.3 L969.2 2797.3 L967.2 2797.3 Z" fill="#000"/>
</svg>
</body></html>
